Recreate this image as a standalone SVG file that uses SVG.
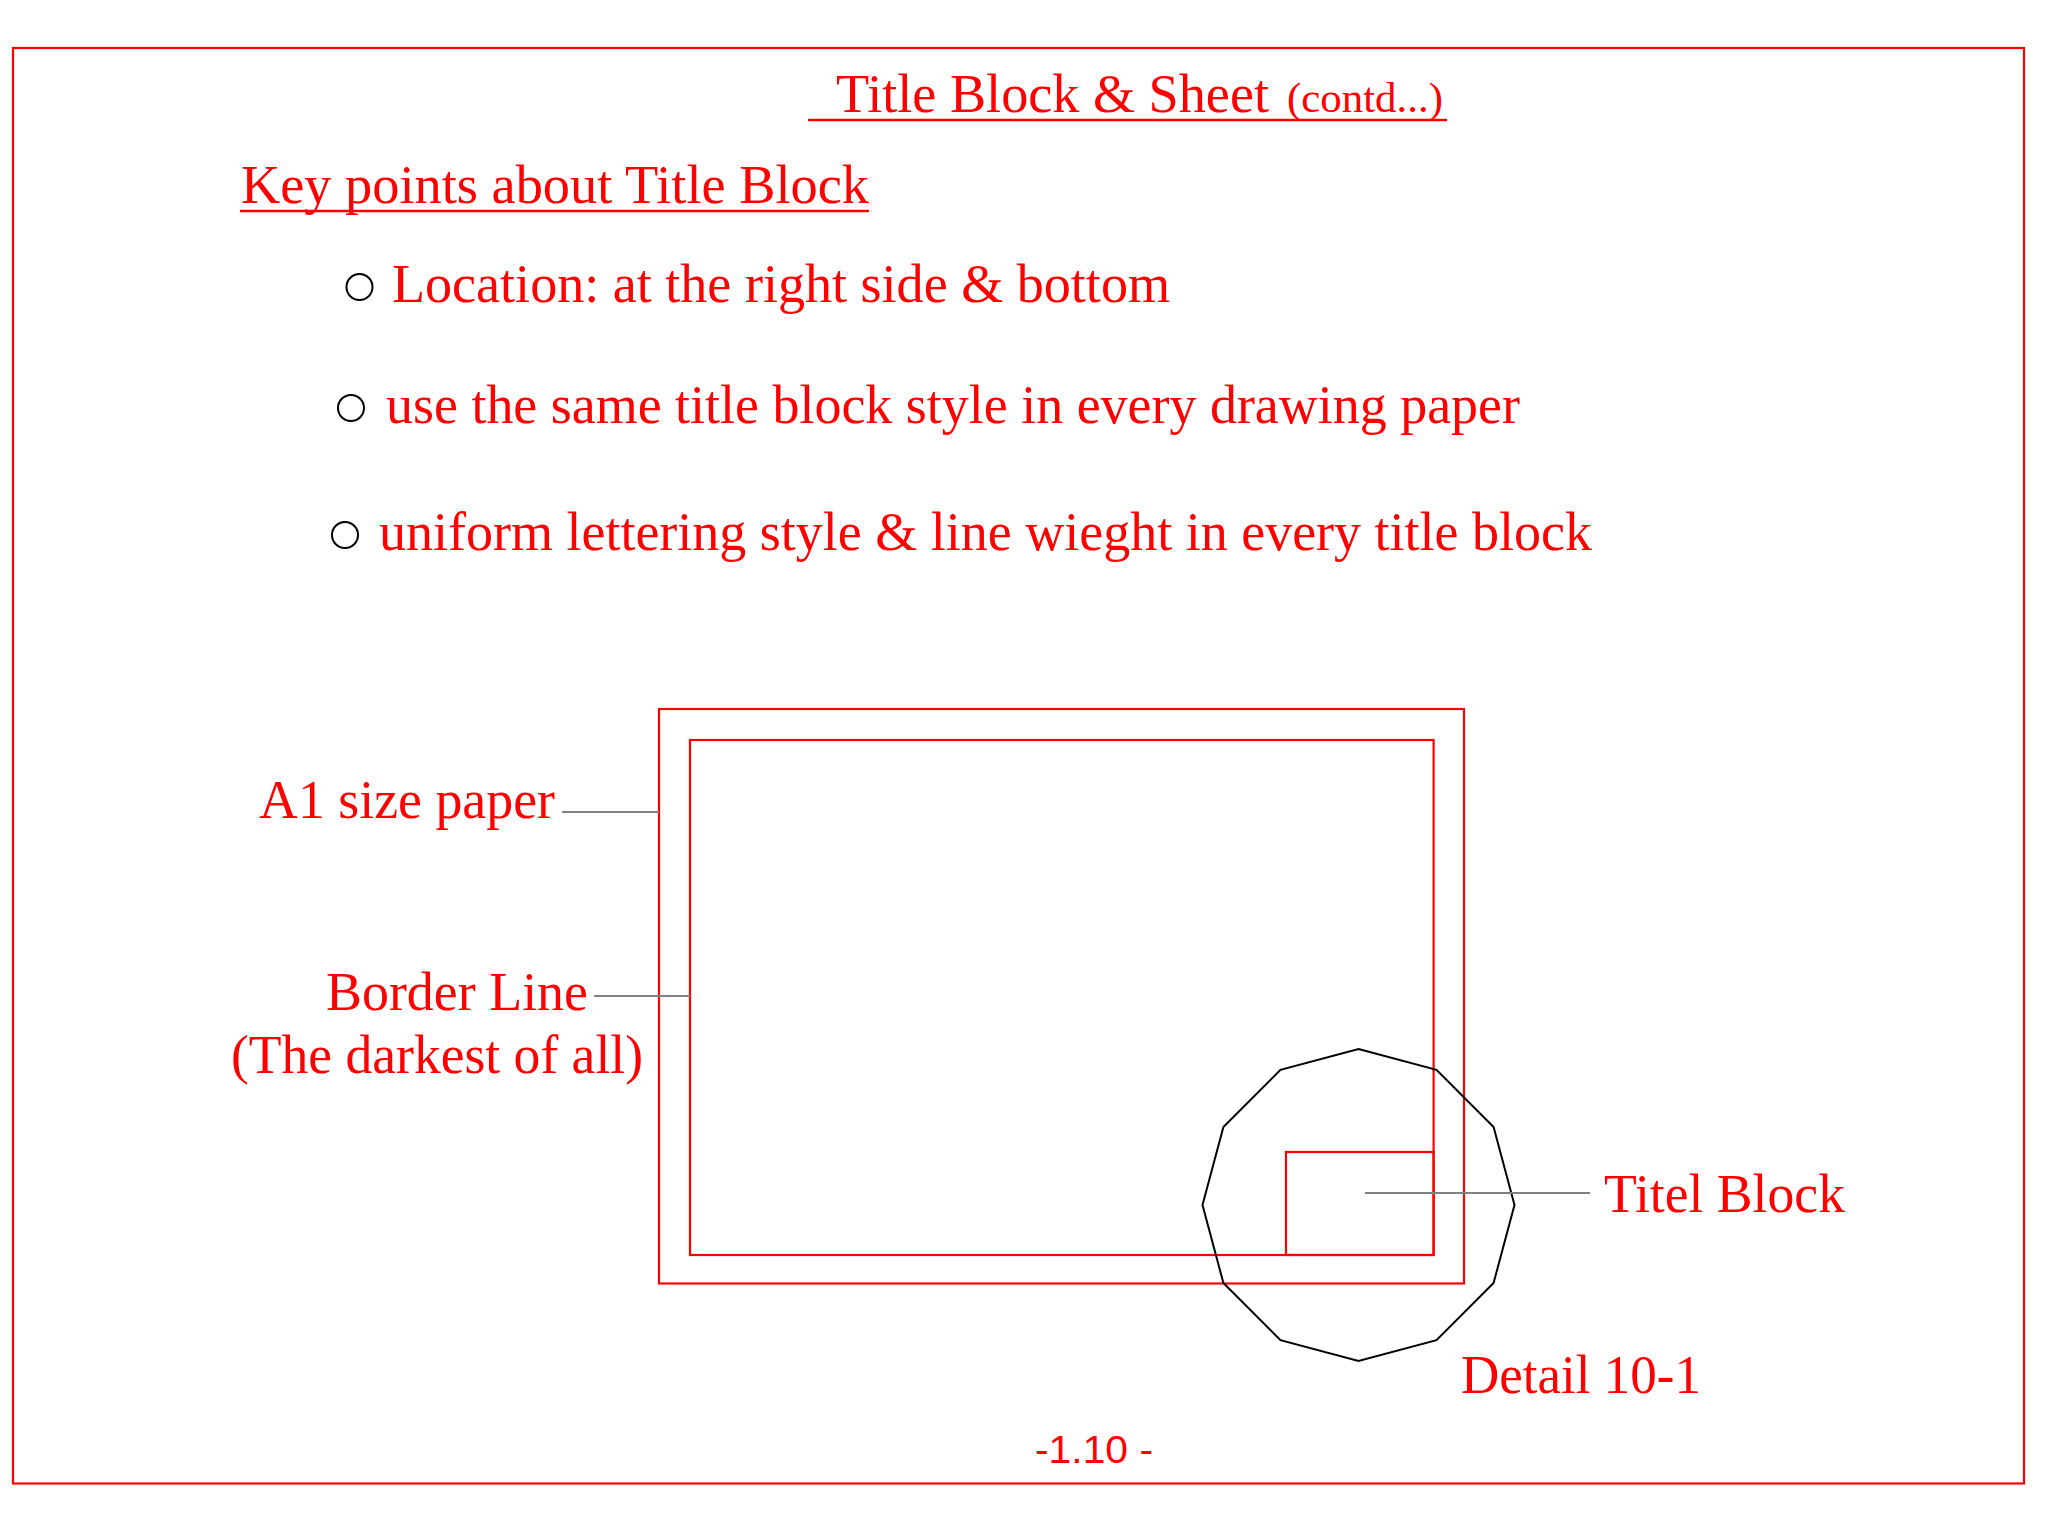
<svg xmlns="http://www.w3.org/2000/svg" width="2048" height="1536" viewBox="0 0 2048 1536">
<style>
.t{font-family:"Liberation Serif","Times New Roman",serif;fill:#ff0000;}
.red{fill:none;stroke:#ff0000;stroke-width:2.2;}
.ul{stroke:#ff0000;stroke-width:2.5;}
.bul{fill:none;stroke:#000000;stroke-width:2;}
.lead{stroke:#808080;stroke-width:2.2;fill:none;}
.poly{fill:none;stroke:#000000;stroke-width:2;}
</style>
<rect x="0" y="0" width="2048" height="1536" fill="#ffffff"/>
<g id="sheet-frame">
<rect class="red" x="13" y="48" width="2011" height="1435.5"/>
</g>
<g id="title">
<text class="t" x="836" y="112" font-size="55" textLength="433" lengthAdjust="spacingAndGlyphs">Title Block &amp; Sheet</text>
<text class="t" x="1287" y="112" font-size="42" textLength="156" lengthAdjust="spacingAndGlyphs">(contd...)</text>
<line class="ul" x1="808" y1="120" x2="1447" y2="120"/>
</g>
<g id="heading">
<text class="t" x="241" y="203" font-size="55" textLength="628" lengthAdjust="spacingAndGlyphs">Key points about Title Block</text>
<line class="ul" x1="240" y1="211" x2="869" y2="211"/>
</g>
<g id="bullet-1">
<circle class="bul" cx="359.5" cy="287" r="13"/>
<text class="t" x="392" y="302" font-size="54" textLength="778" lengthAdjust="spacingAndGlyphs">Location: at the right side &amp; bottom</text>
</g>
<g id="bullet-2">
<circle class="bul" cx="351" cy="408" r="13"/>
<text class="t" x="386" y="423" font-size="54" textLength="1134" lengthAdjust="spacingAndGlyphs">use the same title block style in every drawing paper</text>
</g>
<g id="bullet-3">
<circle class="bul" cx="345" cy="535" r="13"/>
<text class="t" x="379" y="550" font-size="54" textLength="1213" lengthAdjust="spacingAndGlyphs">uniform lettering style &amp; line wieght in every title block</text>
</g>
<g id="paper">
<rect class="red" x="659" y="709" width="805" height="574.5"/>
</g>
<g id="border-line">
<rect class="red" x="690" y="740" width="743.6" height="515"/>
</g>
<g id="title-block">
<rect class="red" x="1286" y="1152" width="147.6" height="103"/>
</g>
<g id="detail-circle">
<polygon class="poly" points="1358.5,1049 1436.5,1069.9 1493.6,1127 1514.5,1205 1493.6,1283 1436.5,1340.1 1358.5,1361 1280.5,1340.1 1223.4,1283 1202.5,1205 1223.4,1127 1280.5,1069.9"/>
</g>
<g id="label-a1">
<text class="t" x="259" y="818" font-size="54" textLength="296" lengthAdjust="spacingAndGlyphs">A1 size paper</text>
</g>
<g id="label-border">
<text class="t" x="326" y="1010" font-size="54" textLength="262" lengthAdjust="spacingAndGlyphs">Border Line</text>
<text class="t" x="231" y="1073" font-size="54" textLength="412" lengthAdjust="spacingAndGlyphs">(The darkest of all)</text>
</g>
<g id="label-titel">
<text class="t" x="1604" y="1212" font-size="54" textLength="241" lengthAdjust="spacingAndGlyphs">Titel Block</text>
</g>
<g id="label-detail">
<text class="t" x="1461" y="1393" font-size="54" textLength="240" lengthAdjust="spacingAndGlyphs">Detail 10-1</text>
</g>
<g id="page-number">
<text x="1035" y="1463" font-size="38" fill="#ff0000" font-family="'Liberation Sans',Arial,sans-serif" textLength="118" lengthAdjust="spacingAndGlyphs">-1.10 -</text>
</g>
<g id="connectors">
<line class="lead" x1="562" y1="812" x2="659" y2="812"/>
<line class="lead" x1="594" y1="996" x2="690" y2="996"/>
<line class="lead" x1="1365" y1="1193" x2="1590" y2="1193"/>
</g>
</svg>
